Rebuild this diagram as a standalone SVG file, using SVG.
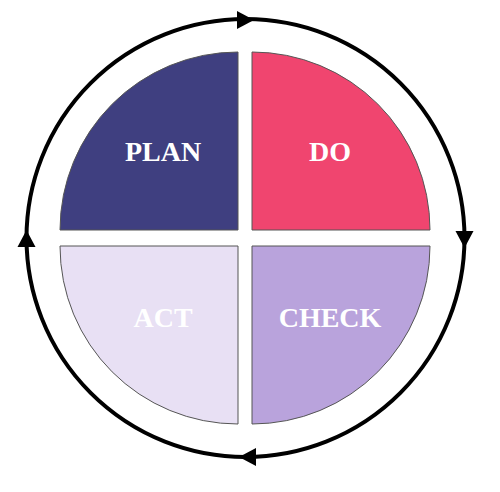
<svg xmlns="http://www.w3.org/2000/svg" width="500" height="492" viewBox="0 0 500 492">
<style>
.q{stroke:#555;stroke-width:1}
.t{font-family:"Liberation Serif",serif;font-weight:bold;font-size:28px;fill:#fff;text-anchor:middle}
.a{fill:#000}
</style>
<rect width="500" height="492" fill="#fff"/>
<g id="connectors">
<circle cx="245.5" cy="238" r="219" fill="none" stroke="#000" stroke-width="4"/>
<polygon class="a" points="254,20 237,11 237,29"/>
<polygon class="a" points="464.5,248 455.5,231 473.5,231"/>
<polygon class="a" points="239,457 256,448 256,466"/>
<polygon class="a" points="26.5,230 17.5,247 35.5,247"/>
</g>
<g id="plan"><path class="q" d="M238,230 H60 A178,178 0 0 1 238,52 Z" fill="#3f3f80"/><text class="t" x="163" y="161">PLAN</text></g>
<g id="do"><path class="q" d="M252,230 V52 A178,178 0 0 1 430,230 Z" fill="#f0456f"/><text class="t" x="330" y="161">DO</text></g>
<g id="act"><path class="q" d="M238,246 V424 A178,178 0 0 1 60,246 Z" fill="#e8e0f4"/><text class="t" x="163" y="327">ACT</text></g>
<g id="check"><path class="q" d="M252,246 H430 A178,178 0 0 1 252,424 Z" fill="#b9a3dc"/><text class="t" x="330" y="327">CHECK</text></g>
</svg>
